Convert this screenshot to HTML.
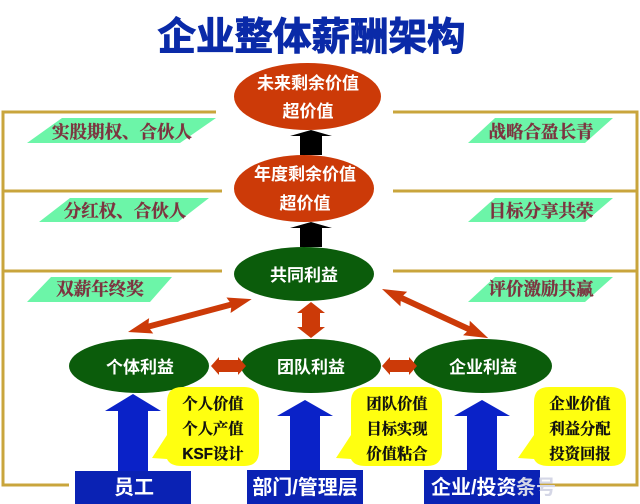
<!DOCTYPE html>
<html><head><meta charset="utf-8">
<style>
html,body{margin:0;padding:0;background:#fff}
svg{display:block;filter:blur(.35px)}
text{font-family:"Liberation Sans","Noto Sans CJK SC",sans-serif;text-anchor:middle;font-weight:700}
.w{fill:#fff;font-size:17px}
.m{fill:#7d3440;font-size:17.5px;font-family:"Noto Serif CJK SC","Noto Sans CJK SC",serif;stroke:#7d3440;stroke-width:.35}
.k{fill:#111;font-size:15.3px;font-family:"Noto Serif CJK SC","Noto Sans CJK SC",serif;stroke:#111;stroke-width:.3}
.b{fill:#fff;font-size:20px}
</style></head><body>
<svg width="640" height="504" viewBox="0 0 640 504" xmlns="http://www.w3.org/2000/svg">
<rect width="640" height="504" fill="#fff"/>
<text x="311.500" y="50" font-size="38.500" fill="#0a2aa8" stroke="#0a2aa8" stroke-width="1">企业整体薪酬架构</text>

<g fill="none" stroke="#c9a53c" stroke-width="3">
<path d="M216 112H3V485H69"/>
<path d="M3 191H222M3 271H222"/>
<path d="M393 112H637V485H540"/>
<path d="M393 191H637M393 271H637"/>
</g>

<g fill="#6cf5a8">
<polygon points="27,143 62,118 216,118 180,143"/>
<polygon points="39,222 70,198 209,198 178,222"/>
<polygon points="27,302 51,277 172,277 150,302"/>
<polygon points="468,143 495,118 613,118 585,143"/>
<polygon points="468,222 495,198 613,198 585,222"/>
<polygon points="468,302 495,277 613,277 585,302"/>
</g>
<text class="m" x="122" y="138">实股期权、合伙人</text>
<text class="m" x="125" y="217">分红权、合伙人</text>
<text class="m" x="100" y="295">双薪年终奖</text>
<text class="m" x="541" y="138">战略合盈长青</text>
<text class="m" x="541" y="217">目标分享共荣</text>
<text class="m" x="541" y="295">评价激励共赢</text>

<g fill="#000">
<polygon points="311,130 332,136 322,136 322,155 300,155 300,136 290,136"/>
<polygon points="311,222 332,228 322,228 322,247 300,247 300,228 290,228"/>
</g>

<ellipse cx="307.500" cy="96.500" rx="73.500" ry="33.500" fill="#cc3a08"/>
<ellipse cx="304" cy="188.500" rx="70" ry="33.500" fill="#cc3a08"/>
<ellipse cx="304" cy="274" rx="70" ry="27" fill="#0b5c0b"/>
<ellipse cx="139" cy="366" rx="70" ry="27" fill="#0b5c0b"/>
<ellipse cx="311" cy="366" rx="70" ry="27" fill="#0b5c0b"/>
<ellipse cx="482.500" cy="366" rx="69.500" ry="27" fill="#0b5c0b"/>

<text class="w" x="308" y="89">未来剩余价值</text>
<text class="w" x="308" y="117">超价值</text>
<text class="w" x="305" y="180">年度剩余价值</text>
<text class="w" x="305" y="209">超价值</text>
<text class="w" x="304" y="281">共同利益</text>
<text class="w" x="140" y="373">个体利益</text>
<text class="w" x="311" y="373">团队利益</text>
<text class="w" x="483" y="373">企业利益</text>

<g fill="#cc3a08">
<polygon transform="translate(128,332) rotate(-14.900)" points="0,0 24,-8 22,-3 106,-3 104,-8 128,0 104,8 106,3 22,3 24,8"/>
<polygon transform="translate(382,289) rotate(24.800)" points="0,0 24,-8 22,-3 95,-3 93,-8 117,0 93,8 95,3 22,3 24,8"/>
<polygon points="311,302 325,313 320,313 320,327 325,327 311,338 297,327 302,327 302,313 297,313"/>
<polygon points="211,366 219,357 219,360 238,360 238,357 246,366 238,375 238,372 219,372 219,375"/>
<polygon points="382,366 390,357 390,360 409,360 409,357 417,366 409,375 409,372 390,372 390,375"/>
</g>

<g fill="#ffff10">
<path d="M167 402Q167 387 182 387H244Q259 387 259 402V451Q259 466 244 466H182Q170 466 167 459L152 458L167 435Z"/>
<path d="M351 402Q351 387 366 387H427Q442 387 442 402V451Q442 466 427 466H366Q354 466 351 459L336 458L351 435Z"/>
<path d="M534 402Q534 387 549 387H611Q626 387 626 402V451Q626 466 611 466H549Q537 466 534 459L518 458L534 435Z"/>
</g>
<text class="k" x="213" y="409">个人价值</text>
<text class="k" x="213" y="434">个人产值</text>
<text class="k" x="213" y="459"><tspan style="font-family:'Liberation Sans',sans-serif">KSF</tspan>设计</text>
<text class="k" x="397" y="409">团队价值</text>
<text class="k" x="397" y="434">目标实现</text>
<text class="k" x="397" y="459">价值粘合</text>
<text class="k" x="580" y="409">企业价值</text>
<text class="k" x="580" y="434">利益分配</text>
<text class="k" x="580" y="459">投资回报</text>

<g fill="#0a22c8">
<polygon points="133,394 161,411 148,411 148,472 118,472 118,411 105,411"/>
<polygon points="305,400 333,416 320,416 320,472 290,472 290,416 277,416"/>
<polygon points="482,400 510,416 497,416 497,472 467,472 467,416 454,416"/>
</g>
<rect x="75" y="471" width="116" height="33" fill="#0a22b4"/>
<rect x="247" y="470" width="116" height="34" fill="#0a22b4"/>
<rect x="424" y="470" width="116" height="34" fill="#0a22b4"/>
<text class="b" x="134" y="494">员工</text>
<text class="b" x="305" y="494">部门/管理层</text>
<text class="b" x="431" y="494" style="text-anchor:start">企业/投资</text>
<text x="516" y="494" font-size="20" fill="#d5d7e6" style="text-anchor:start">条号</text>
</svg>
</body></html>
